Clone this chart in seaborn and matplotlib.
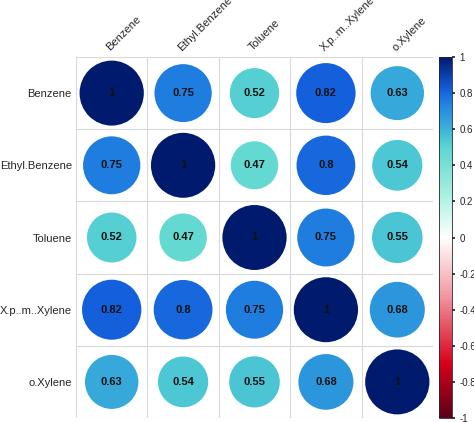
import numpy as np
import matplotlib
matplotlib.use("Agg")
import matplotlib.pyplot as plt
import matplotlib.patches as mpatches
from matplotlib.colors import LinearSegmentedColormap, Normalize
import seaborn as sns

sns.set_theme(style="white")
plt.rcParams['font.family'] = ['Liberation Sans', 'DejaVu Sans']

# Data
Labels = ['Benzene', 'Ethyl.Benzene', 'Toluene', 'X.p..m..Xylene', 'o.Xylene']
CorrValues = np.array([
    [1.00, 0.75, 0.52, 0.82, 0.63],
    [0.75, 1.00, 0.47, 0.80, 0.54],
    [0.52, 0.47, 1.00, 0.75, 0.55],
    [0.82, 0.80, 0.75, 1.00, 0.68],
    [0.63, 0.54, 0.55, 0.68, 1.00],
])
CbarTicks = [-1, -0.8, -0.6, -0.4, -0.2, 0, 0.2, 0.4, 0.6, 0.8, 1]

cmap = LinearSegmentedColormap.from_list('corr', [
    (0.0, '#5a0018'), (0.15, '#d7001c'), (0.35, '#f3a0a8'), (0.5, '#ffffff'),
    (0.62, '#a8f0e0'), (0.75, '#5cd6d0'), (0.8, '#3cb4d8'), (0.875, '#2080e0'),
    (0.91, '#1460dc'), (1.0, '#001a6e')])
norm = Normalize(-1, 1)

fig = plt.figure(figsize=(4.74, 4.22), dpi=100)
ax = fig.add_axes([76 / 474, 4 / 422, 357 / 474, 361 / 422])
n = len(Labels)
for i in range(n):
    for j in range(n):
        v = CorrValues[i, j]
        r = 0.45 * abs(v) ** 0.4
        ax.add_patch(mpatches.Circle((j + 0.5, n - i - 0.5), r, fc=cmap(norm(v)), ec='none'))
        ax.text(j + 0.5, n - i - 0.5, f'{v:g}', ha='center', va='center', fontsize=8, fontweight='bold', color='#111111')
for k in range(n + 1):
    ax.axhline(k, color='#d9d9d9', lw=0.8)
    ax.axvline(k, color='#d9d9d9', lw=0.8)
ax.set_xlim(0, n); ax.set_ylim(0, n)
ax.set_aspect('auto')
ax.set_xticks(np.arange(n) + 0.5)
ax.set_xticklabels(Labels, rotation=45, ha='left', va='bottom', fontsize=8, rotation_mode='anchor')
ax.xaxis.tick_top()
ax.set_yticks(np.arange(n) + 0.5)
ax.set_yticklabels(Labels[::-1], fontsize=8)
ax.tick_params(length=0, pad=3)
for s in ax.spines.values():
    s.set_visible(False)

cax = fig.add_axes([439 / 474, 4 / 422, 13 / 474, 361 / 422])
cb = fig.colorbar(matplotlib.cm.ScalarMappable(norm=norm, cmap=cmap), cax=cax, ticks=CbarTicks)
cb.ax.set_yticklabels([f'{t:g}' for t in CbarTicks], fontsize=7)
cb.ax.tick_params(length=2)
cb.outline.set_linewidth(0.6)

fig.savefig('out.png', dpi=100, facecolor='white')
